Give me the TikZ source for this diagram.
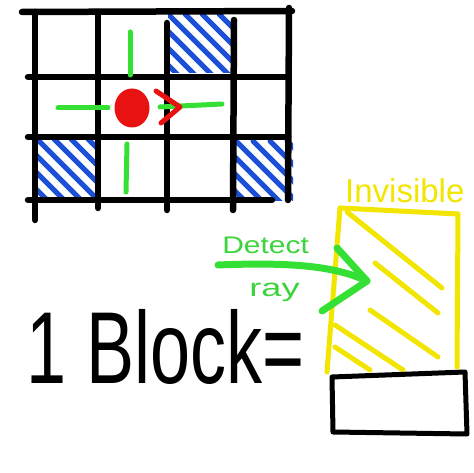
\documentclass[tikz,border=0pt]{standalone}
\usepackage{fontspec}
\setmainfont{Liberation Sans}
\usetikzlibrary{shapes.geometric}
\definecolor{gridblack}{HTML}{000000}
\definecolor{hatchblue}{HTML}{1C4FD8}
\definecolor{raygreen}{HTML}{33E033}
\definecolor{txtgreen}{HTML}{3CD43C}
\definecolor{invyellow}{HTML}{F2E600}
\definecolor{blobred}{HTML}{E81212}
\tikzset{
  gridline/.style={line width=6.5pt, line cap=round, draw=gridblack},
  hatch/.style={line width=5pt, line cap=round, draw=hatchblue},
  crossline/.style={line width=5pt, line cap=round, draw=raygreen},
  yline/.style={line width=5pt, line cap=round, line join=round, draw=invyellow},
  handtext/.style={inner sep=0pt, transform shape},
}
\begin{document}
\begin{tikzpicture}[x=1pt, y=-1pt]
\path[use as bounding box, fill=white] (0,0) rectangle (474,473);
% blue hatched cells
\begin{scope}
  \clip (168,14) rectangle (231,73);
  \foreach \d in {-68,-51,...,68} \draw[hatch] (168+\d,14) -- ++(90,90);
\end{scope}
\begin{scope}
  \clip (37,139) rectangle (97,198);
  \foreach \d in {-68,-51,...,68} \draw[hatch] (37+\d,139) -- ++(90,90);
\end{scope}
\begin{scope}
  \clip (236,141) rectangle (293,201);
  \foreach \d in {-68,-51,...,68} \draw[hatch] (236+\d,141) -- ++(90,90);
\end{scope}
% grid
\draw[gridline] (22,12) -- (292,11);
\draw[gridline] (28,77) -- (288,77);
\draw[gridline] (28,137) -- (288,137);
\draw[gridline] (28,200) -- (272,200);
\draw[gridline] (35,12) -- (35,220);
\draw[gridline] (98,12) -- (98,208);
\draw[gridline] (167,23) -- (167,210);
\draw[gridline] (234,20) -- (233,210);
\draw[gridline] (289,8) -- (288,200);
% green cross
\draw[crossline] (130,32) -- (130,75);
\draw[crossline] (127,144) -- (126,192);
\draw[crossline] (58,108) -- (108,108);
\draw[crossline] (160,107) -- (222,104);
% red blob and chevron
\node[draw=none, fill=blobred, ellipse, minimum width=35pt, minimum height=39pt, inner sep=0pt] (blob) at (132,108) {};
\draw[line width=5pt, line cap=round, line join=round, draw=blobred] (156,91) -- (180,107) -- (161,123);
% yellow invisible block
\draw[yline] (340,208) -- (458,214) -- (457,367);
\draw[yline] (340,208) -- (327,372);
\draw[yline] (347,212) -- (442,288);
\draw[yline] (375,263) -- (438,313);
\draw[yline] (370,310) -- (438,357);
\draw[yline] (335,325) -- (403,370);
\draw[yline] (335,347) -- (370,370);
\node[handtext, anchor=base west, text=invyellow, font=\fontsize{33}{33}\selectfont] (inv) at (345,203) {Invisible};
% detect ray
\coordinate (rayStart) at (218,265);
\coordinate (rayEnd) at (367,281);
\draw[line width=7pt, line cap=round, draw=raygreen] (rayStart) .. controls (290,262) and (335,266) .. (rayEnd);
\draw[line width=7pt, line cap=round, line join=round, draw=raygreen] (337,248) -- (rayEnd) -- (322,311);
\node[handtext, anchor=base west, text=txtgreen, font=\fontsize{24}{24}\selectfont, xscale=1.25] (detect) at (222,254) {Detect};
\node[handtext, anchor=base west, text=txtgreen, font=\fontsize{25}{25}\selectfont, xscale=1.45] (ray) at (249,296) {ray};
% 1 Block =
\node[handtext, anchor=base west, text=black, font=\fontsize{72}{72}\selectfont, yscale=1.42] (blocktext) at (26,383) {1 Block=};
% black block
\draw[line width=5pt, line join=round, draw=black] (332,377) -- (465,372) -- (467,434) -- (333,432) -- cycle;
\end{tikzpicture}
\end{document}
